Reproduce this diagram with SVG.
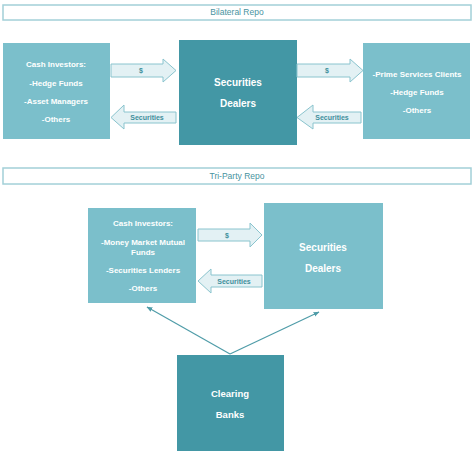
<svg xmlns="http://www.w3.org/2000/svg" width="474" height="460" viewBox="0 0 474 460">
<defs>
<style>
.title{fill:#fff;stroke:#a3d0d8;stroke-width:1.5}
.tt{font-family:"Liberation Sans",Arial,sans-serif;font-size:8.5px;fill:#4893a0;text-anchor:middle}
.lite{fill:#7bbfcb}
.dark{fill:#4397a5}
.wt{font-family:"Liberation Sans",Arial,sans-serif;font-size:8px;font-weight:bold;fill:#fff;text-anchor:middle}
.mid{font-family:"Liberation Sans",Arial,sans-serif;font-size:9.5px;font-weight:bold;fill:#fff;text-anchor:middle}
.big{font-family:"Liberation Sans",Arial,sans-serif;font-size:10px;font-weight:bold;fill:#fff;text-anchor:middle}
.arr{fill:#e3f1f4;stroke:#8ac4ce;stroke-width:1}
.at{font-family:"Liberation Sans",Arial,sans-serif;font-size:7px;font-weight:bold;fill:#3f8f9c;text-anchor:middle}
.con{stroke:#4f9ca8;stroke-width:1.2;fill:none}
</style>
<marker id="ah" viewBox="0 0 10 10" refX="9" refY="5" markerWidth="5" markerHeight="5" orient="auto">
<path d="M0,1 L10,5 L0,9 Z" fill="#4f9ca8"/>
</marker>
</defs>

<g id="title-bilateral">
<rect class="title" x="3" y="5" width="468" height="15"/>
<text class="tt" x="237" y="15">Bilateral Repo</text>
</g>

<g id="cash-investors-1">
<rect class="lite" x="3" y="43" width="107" height="96"/>
<text class="wt" x="56" y="67">Cash Investors:</text>
<text class="wt" x="56" y="86">-Hedge Funds</text>
<text class="wt" x="56" y="104">-Asset Managers</text>
<text class="wt" x="56" y="122">-Others</text>
</g>

<g id="dealers-1">
<rect class="dark" x="179" y="40" width="118" height="105"/>
<text class="big" x="238" y="86">Securities</text>
<text class="big" x="238" y="107">Dealers</text>
</g>

<g id="prime-clients">
<rect class="lite" x="363" y="43" width="107" height="96"/>
<text class="wt" x="417" y="77">-Prime Services Clients</text>
<text class="wt" x="417" y="95">-Hedge Funds</text>
<text class="wt" x="417" y="113">-Others</text>
</g>

<g id="title-triparty">
<rect class="title" x="3" y="168" width="468" height="16"/>
<text class="tt" x="237" y="179">Tri-Party Repo</text>
</g>

<g id="cash-investors-2">
<rect class="lite" x="88" y="208" width="108" height="95"/>
<text class="wt" x="143" y="226">Cash Investors:</text>
<text class="wt" x="143" y="245">-Money Market Mutual</text>
<text class="wt" x="143" y="255">Funds</text>
<text class="wt" x="143" y="273">-Securities Lenders</text>
<text class="wt" x="143" y="291">-Others</text>
</g>

<g id="dealers-2">
<rect class="lite" x="264" y="203" width="119" height="106"/>
<text class="big" x="323" y="251">Securities</text>
<text class="big" x="323" y="272">Dealers</text>
</g>

<g id="clearing-banks">
<rect class="dark" x="177" y="355" width="107" height="96"/>
<text class="mid" x="230" y="397">Clearing</text>
<text class="mid" x="230" y="418">Banks</text>
</g>

<g id="connectors">
<path class="arr" d="M111,64 H163 V59 L176,70.5 L163,82 V77 H111 Z"/>
<text class="at" x="141" y="73">$</text>
<path class="arr" d="M176,112 H124 V105 L111,117.5 L124,129 V123 H176 Z"/>
<text class="at" x="147" y="120">Securities</text>
<path class="arr" d="M297,64 H350 V59 L363,70.5 L350,82 V77 H297 Z"/>
<text class="at" x="327" y="73">$</text>
<path class="arr" d="M361,112 H313 V105 L297,117.5 L313,129 V123 H361 Z"/>
<text class="at" x="332" y="120">Securities</text>
<path class="arr" d="M198,229 H250 V223 L262,235 L250,247 V241 H198 Z"/>
<text class="at" x="227" y="238">$</text>
<path class="arr" d="M262,275 H211 V269 L198,281 L211,293 V287 H262 Z"/>
<text class="at" x="234" y="284">Securities</text>
<line class="con" x1="230" y1="354" x2="147" y2="307" marker-end="url(#ah)"/>
<line class="con" x1="230" y1="354" x2="319" y2="312" marker-end="url(#ah)"/>
</g>
</svg>
